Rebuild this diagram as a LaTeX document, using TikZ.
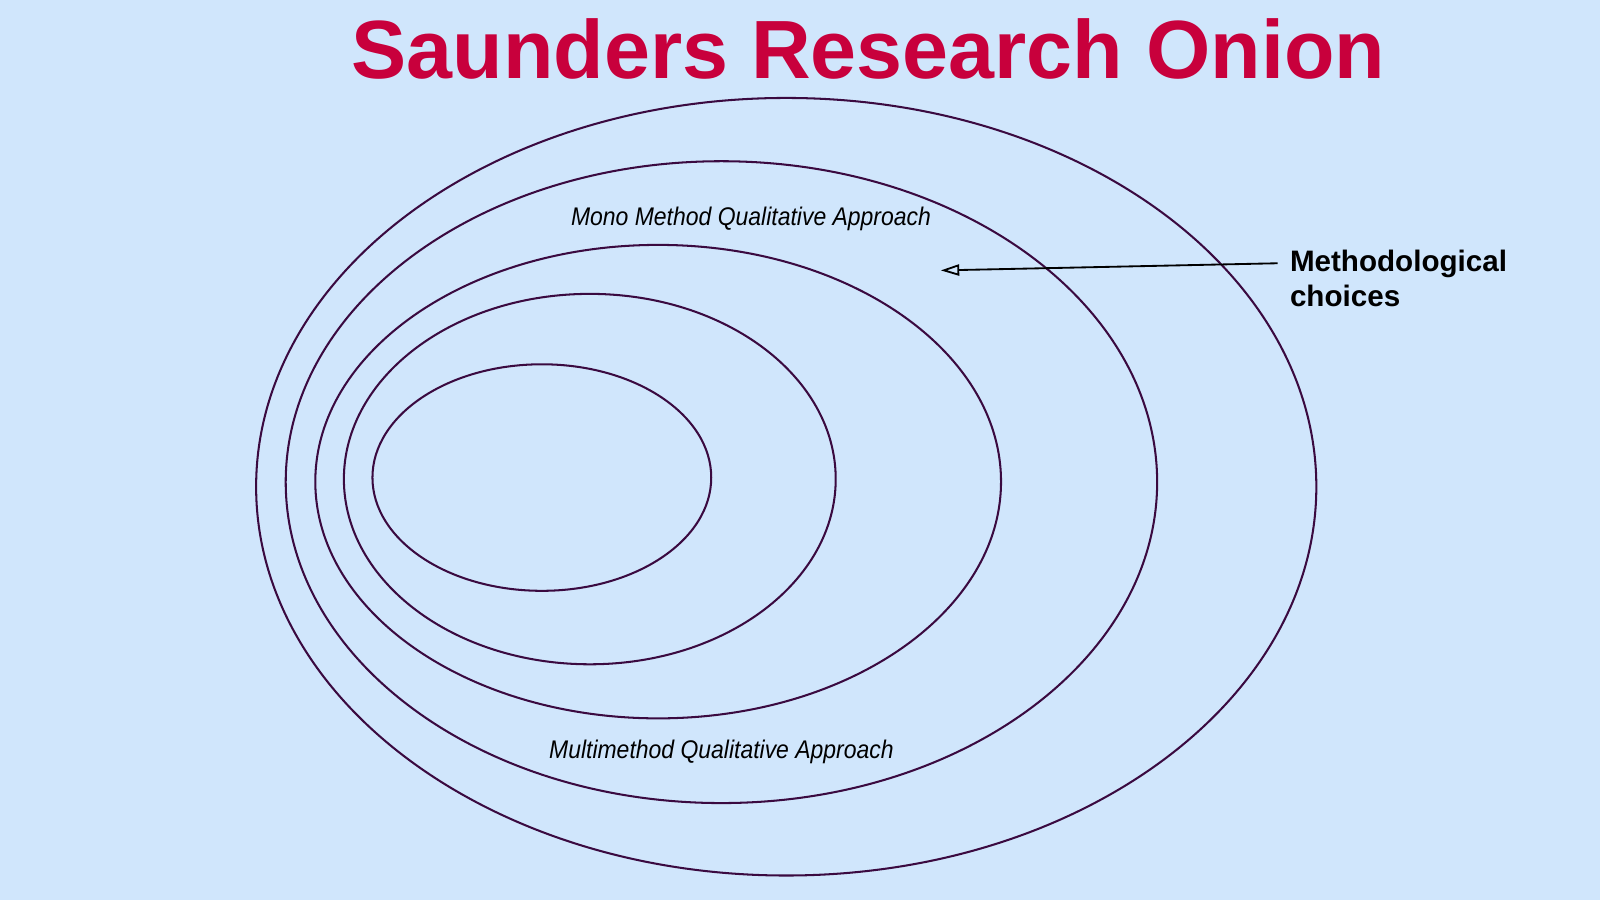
\documentclass[tikz,border=0pt]{standalone}
\usepackage{fontspec}
\setmainfont{Liberation Sans}
\usetikzlibrary{arrows.meta}
\definecolor{bg}{HTML}{D0E6FC}
\definecolor{ring}{HTML}{3A0A40}
\definecolor{ttl}{HTML}{C8003C}
\begin{document}
\begin{tikzpicture}[x=1pt,y=-1pt,
  ringline/.style={draw=ring,line width=2pt},
  lbl/.style={font=\itshape\fontsize{25}{28}\selectfont,xscale=0.9,inner sep=0pt}]
\fill[bg] (0,0) rectangle (1568,882);
\useasboundingbox (0,0) rectangle (1568,882);
\node[text=ttl,font=\bfseries\fontsize{81}{90}\selectfont,inner sep=0pt] (title) at (851,48) {Saunders Research Onion};
\draw[ringline] (770.5,477) ellipse [x radius=519.5, y radius=381];
\draw[ringline] (707,472.5) ellipse [x radius=427, y radius=314.5];
\draw[ringline] (645,472) ellipse [x radius=336, y radius=232];
\draw[ringline] (578,469.5) ellipse [x radius=241, y radius=181.5];
\draw[ringline] (531,468) ellipse [x radius=166, y radius=111];
\node[lbl] (mono) at (736,215) {Mono Method Qualitative Approach};
\node[lbl] (multi) at (707,737) {Multimethod Qualitative Approach};
\node[font=\bfseries\fontsize{29}{34}\selectfont,align=left,anchor=north west,inner sep=0pt] (mc) at (1264,245) {Methodological\\choices};
\coordinate (tip) at (922,265);
\coordinate (start) at (1252,258);
\draw[line width=1.8pt,-{Triangle[open,length=18pt,width=11pt]}] (start) -- (tip);
\end{tikzpicture}
\end{document}
